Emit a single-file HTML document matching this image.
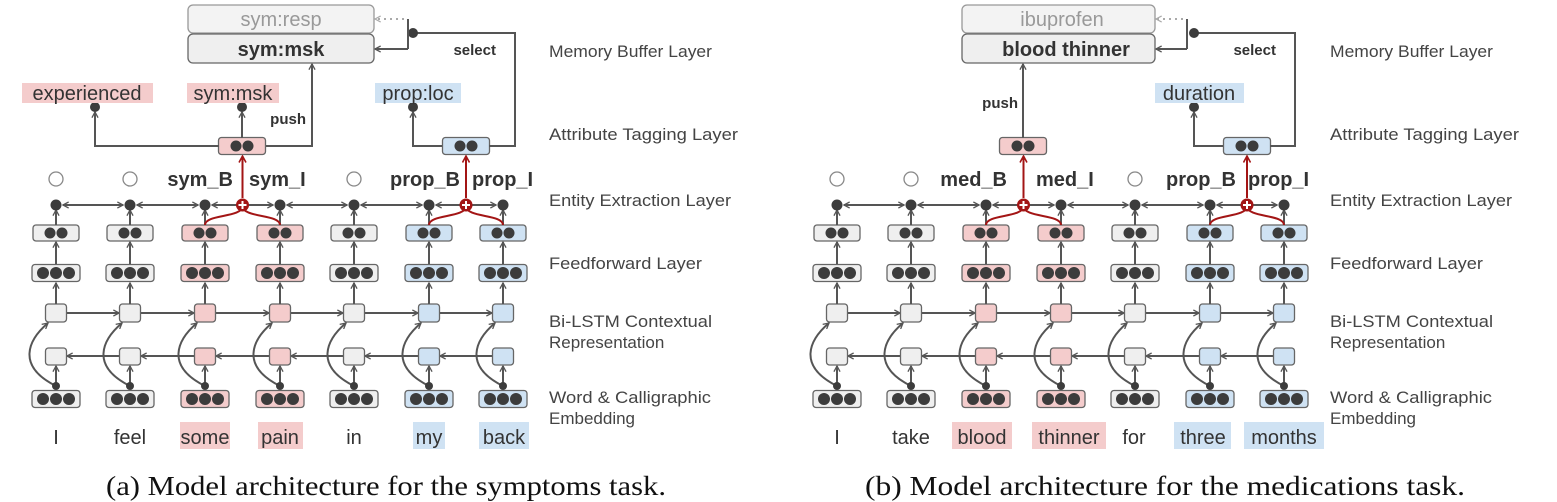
<!DOCTYPE html>
<html><head><meta charset="utf-8"><style>
html,body{margin:0;padding:0;background:#fff;}
svg{display:block;}
text{font-family:"Liberation Sans","DejaVu Sans",sans-serif;}
.lay{font-size:17px;fill:#444;}
.lab{font-size:20px;fill:#333;}
.bold{font-weight:bold;}
.cap{font-family:"Liberation Serif",serif;font-size:27px;fill:#111;}
</style></head><body>
<svg id="s" width="1557" height="502" viewBox="0 0 1557 502" xmlns="http://www.w3.org/2000/svg">
<defs>
<marker id="ah" viewBox="0 0 8 8" refX="7" refY="4" markerWidth="7" markerHeight="7" orient="auto-start-reverse" markerUnits="userSpaceOnUse"><path d="M0.5,0.5 L7,4 L0.5,7.5" fill="none" stroke="#555" stroke-width="1.5"/></marker>
<marker id="ahr" viewBox="0 0 8 8" refX="7" refY="4" markerWidth="8" markerHeight="8" orient="auto" markerUnits="userSpaceOnUse"><path d="M0.5,0.5 L7,4 L0.5,7.5" fill="none" stroke="#a31515" stroke-width="1.6"/></marker>
<marker id="ahg" viewBox="0 0 8 8" refX="7" refY="4" markerWidth="7" markerHeight="7" orient="auto" markerUnits="userSpaceOnUse"><path d="M0.5,0.5 L7,4 L0.5,7.5" fill="none" stroke="#aaa" stroke-width="1.4"/></marker>
</defs>
<g id="g"></g>

<rect x="22" y="83" width="131" height="20" fill="#f4cccc"/>
<rect x="187" y="83" width="92" height="20" fill="#f4cccc"/>
<rect x="375" y="83" width="86" height="20" fill="#cfe2f3"/>
<text class="lab" x="87" y="100" text-anchor="middle">experienced</text>
<text class="lab" x="233" y="100" text-anchor="middle">sym:msk</text>
<text class="lab" x="418" y="100" text-anchor="middle">prop:loc</text>
<rect x="188" y="5" width="186" height="28" rx="5" fill="#f3f3f3" stroke="#999" stroke-width="1.3"/>
<rect x="188" y="34" width="186" height="29" rx="5" fill="#efefef" stroke="#666" stroke-width="1.3"/>
<text class="lab" x="281" y="26" text-anchor="middle" style="fill:#999">sym:resp</text>
<text class="lab bold" x="281" y="56" text-anchor="middle">sym:msk</text>
<text class="lab bold" x="306" y="124" text-anchor="end" style="font-size:15px">push</text>
<text class="lab bold" x="496" y="55" text-anchor="end" style="font-size:15px">select</text>
<text class="lab bold" x="233" y="186" text-anchor="end">sym_B</text>
<text class="lab bold" x="249" y="186">sym_I</text>
<text class="lab bold" x="460" y="186" text-anchor="end">prop_B</text>
<text class="lab bold" x="472" y="186">prop_I</text>

<rect x="180" y="422" width="50" height="27" fill="#f4cccc"/>
<rect x="258" y="422" width="45" height="27" fill="#f4cccc"/>
<rect x="413" y="422" width="32" height="27" fill="#cfe2f3"/>
<rect x="479" y="422" width="50" height="27" fill="#cfe2f3"/>
<text class="lab" x="56" y="444" text-anchor="middle">I</text>
<text class="lab" x="130" y="444" text-anchor="middle">feel</text>
<text class="lab" x="205" y="444" text-anchor="middle">some</text>
<text class="lab" x="280" y="444" text-anchor="middle">pain</text>
<text class="lab" x="354" y="444" text-anchor="middle">in</text>
<text class="lab" x="429" y="444" text-anchor="middle">my</text>
<text class="lab" x="504" y="444" text-anchor="middle">back</text>

<text class="lay" x="549" y="57" textLength="163" lengthAdjust="spacingAndGlyphs">Memory Buffer Layer</text>
<text class="lay" x="549" y="140" textLength="189" lengthAdjust="spacingAndGlyphs">Attribute Tagging Layer</text>
<text class="lay" x="549" y="206" textLength="182" lengthAdjust="spacingAndGlyphs">Entity Extraction Layer</text>
<text class="lay" x="549" y="269" textLength="153" lengthAdjust="spacingAndGlyphs">Feedforward Layer</text>
<text class="lay" x="549" y="327" textLength="163" lengthAdjust="spacingAndGlyphs">Bi-LSTM Contextual</text>
<text class="lay" x="549" y="348">Representation</text>
<text class="lay" x="549" y="403" textLength="162" lengthAdjust="spacingAndGlyphs">Word &amp; Calligraphic</text>
<text class="lay" x="549" y="424">Embedding</text>

<rect x="1155" y="83" width="89" height="20" fill="#cfe2f3"/>
<text class="lab" x="1199" y="100" text-anchor="middle">duration</text>
<rect x="962" y="5" width="193" height="28" rx="5" fill="#f3f3f3" stroke="#999" stroke-width="1.3"/>
<rect x="962" y="34" width="193" height="29" rx="5" fill="#efefef" stroke="#666" stroke-width="1.3"/>
<text class="lab" x="1062" y="26" text-anchor="middle" style="fill:#999">ibuprofen</text>
<text class="lab bold" x="1066" y="56" text-anchor="middle">blood thinner</text>
<text class="lab bold" x="1018" y="108" text-anchor="end" style="font-size:15px">push</text>
<text class="lab bold" x="1276" y="55" text-anchor="end" style="font-size:15px">select</text>
<text class="lab bold" x="1007" y="186" text-anchor="end">med_B</text>
<text class="lab bold" x="1036" y="186">med_I</text>
<text class="lab bold" x="1236" y="186" text-anchor="end">prop_B</text>
<text class="lab bold" x="1248" y="186">prop_I</text>

<rect x="952" y="422" width="60" height="27" fill="#f4cccc"/>
<rect x="1032" y="422" width="74" height="27" fill="#f4cccc"/>
<rect x="1174" y="422" width="57" height="27" fill="#cfe2f3"/>
<rect x="1244" y="422" width="80" height="27" fill="#cfe2f3"/>
<text class="lab" x="837" y="444" text-anchor="middle">I</text>
<text class="lab" x="911" y="444" text-anchor="middle">take</text>
<text class="lab" x="982" y="444" text-anchor="middle">blood</text>
<text class="lab" x="1069" y="444" text-anchor="middle">thinner</text>
<text class="lab" x="1134" y="444" text-anchor="middle">for</text>
<text class="lab" x="1203" y="444" text-anchor="middle">three</text>
<text class="lab" x="1284" y="444" text-anchor="middle">months</text>

<text class="lay" x="1330" y="57" textLength="163" lengthAdjust="spacingAndGlyphs">Memory Buffer Layer</text>
<text class="lay" x="1330" y="140" textLength="189" lengthAdjust="spacingAndGlyphs">Attribute Tagging Layer</text>
<text class="lay" x="1330" y="206" textLength="182" lengthAdjust="spacingAndGlyphs">Entity Extraction Layer</text>
<text class="lay" x="1330" y="269" textLength="153" lengthAdjust="spacingAndGlyphs">Feedforward Layer</text>
<text class="lay" x="1330" y="327" textLength="163" lengthAdjust="spacingAndGlyphs">Bi-LSTM Contextual</text>
<text class="lay" x="1330" y="348">Representation</text>
<text class="lay" x="1330" y="403" textLength="162" lengthAdjust="spacingAndGlyphs">Word &amp; Calligraphic</text>
<text class="lay" x="1330" y="424">Embedding</text>

<text class="cap" x="106" y="495" textLength="560" lengthAdjust="spacingAndGlyphs">(a)  Model architecture for the symptoms task.</text>
<text class="cap" x="865" y="495" textLength="600" lengthAdjust="spacingAndGlyphs">(b)  Model architecture for the medications task.</text>
</svg>
<script>
(function(){
var g=document.getElementById('g'),NS='http://www.w3.org/2000/svg';
function el(t,a){var e=document.createElementNS(NS,t);for(var k in a)e.setAttribute(k,a[k]);g.appendChild(e);return e;}
var C={g:'#efefef',p:'#f4cccc',b:'#cfe2f3'};
var DK='#3c3c3c',LN='#555';
function box(cx,cy,w,h,c,n){el('rect',{x:cx-w/2,y:cy-h/2,width:w,height:h,rx:3,fill:C[c],stroke:'#666','stroke-width':1.3});
 var r=n==3?6:5.5,sp=n==3?13:12;for(var i=0;i<n;i++)el('circle',{cx:cx+(i-(n-1)/2)*sp,cy:cy,r:r,fill:DK});}
function ln(x1,y1,x2,y2,o){var a={x1:x1,y1:y1,x2:x2,y2:y2,stroke:LN,'stroke-width':2,fill:'none'};for(var k in o)a[k]=o[k];return el('line',a);}
function pth(d,o){var a={d:d,stroke:LN,'stroke-width':2,fill:'none'};for(var k in o)a[k]=o[k];return el('path',a);}
function dot(x,y,r){el('circle',{cx:x,cy:y,r:r||5,fill:DK});}
function ocirc(x,y){el('circle',{cx:x,cy:y,r:7,fill:'none',stroke:'#888','stroke-width':1.3});}
function plus(x,y){el('circle',{cx:x,cy:y,r:6.5,fill:'#a31515'});ln(x-4,y,x+4,y,{stroke:'#fff','stroke-width':2});ln(x,y-4,x,y+4,{stroke:'#fff','stroke-width':2});}
function panel(off){
 var xs=[56,130,205,280,354,429,503].map(function(v){return v+off;});
 var cs=['g','g','p','p','g','b','b'];
 for(var i=0;i<6;i++){
  ln(xs[i]+11,313,xs[i+1]-11,313,{'marker-end':'url(#ah)'});
  ln(xs[i+1]-11,356,xs[i]+11,356,{'marker-end':'url(#ah)'});
  ln(xs[i]+7,205,xs[i+1]-7,205,{'marker-end':'url(#ah)','marker-start':'url(#ah)'});
 }
 xs.forEach(function(x,i){
  var c=cs[i];
  box(x,399,48,17,c,3);
  pth('M'+x+',386 C'+(x-40)+',366 '+(x-28)+',340 '+(x-8)+',323',{'marker-end':'url(#ah)'});
  ln(x,386,x,366,{'marker-end':'url(#ah)'});
  dot(x,386,4);
  el('rect',{x:x-10.5,y:348,width:21,height:17,rx:3,fill:C[c],stroke:'#666','stroke-width':1.3});
  el('rect',{x:x-10.5,y:304,width:21,height:18,rx:3,fill:C[c],stroke:'#666','stroke-width':1.3});
  ln(x,304,x,283,{'marker-end':'url(#ah)'});
  box(x,273,48,17,c,3);
  ln(x,264,x,242,{'marker-end':'url(#ah)'});
  box(x,233,46,16,c,2);
  ln(x,225,x,210,{'marker-end':'url(#ah)'});
  dot(x,205,5.5);
 });
 ocirc(xs[0],179);ocirc(xs[1],179);ocirc(xs[4],179);
 [[2,3],[5,6]].forEach(function(pr){
  var a=xs[pr[0]],b=xs[pr[1]],m=(a+b)/2;
  pth('M'+a+',225 C'+a+',214 '+m+',218 '+m+',206',{stroke:'#a31515'});
  pth('M'+b+',225 C'+b+',214 '+m+',218 '+m+',206',{stroke:'#a31515'});
  plus(m,205);
  ln(m,198,m,156,{stroke:'#a31515','marker-end':'url(#ahr)'});
 });
 return xs;
}
panel(0);panel(781);
box(242,146,47,17,'p',2);
pth('M219,146 H95 V112',{'marker-end':'url(#ah)'});dot(95,107);
ln(242,138,242,112,{'marker-end':'url(#ah)'});dot(242,107);
pth('M266,146 H312 V64',{'marker-end':'url(#ah)'});
box(466,146,47,17,'b',2);
pth('M442,146 H413 V112',{'marker-end':'url(#ah)'});dot(413,107);
pth('M489,146 H515 V33 H413');dot(413,33);
ln(408,19,408,49);
ln(408,49,375,49,{'marker-end':'url(#ah)'});
ln(404,19,375,19,{stroke:'#aaa','stroke-dasharray':'2,4','marker-end':'url(#ahg)'});
box(1023,146,47,17,'p',2);
ln(1023,138,1023,64,{'marker-end':'url(#ah)'});
box(1247,146,47,17,'b',2);
pth('M1223,146 H1194 V112',{'marker-end':'url(#ah)'});dot(1194,107);
pth('M1270,146 H1295 V33 H1194');dot(1194,33);
ln(1187,19,1187,49);
ln(1187,49,1156,49,{'marker-end':'url(#ah)'});
ln(1183,19,1156,19,{stroke:'#aaa','stroke-dasharray':'2,4','marker-end':'url(#ahg)'});
})();
</script>
</body></html>
